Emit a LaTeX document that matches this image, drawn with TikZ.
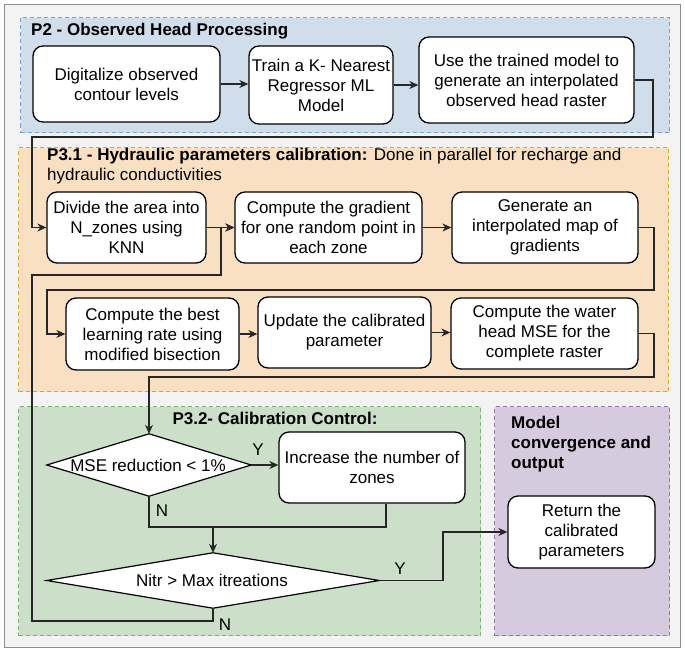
\documentclass[tikz,border=0pt]{standalone}
\usepackage{fontspec}
\setmainfont{Liberation Sans}
\usetikzlibrary{arrows.meta}
\definecolor{bluefill}{RGB}{208,221,235}
\definecolor{blueline}{RGB}{120,160,210}
\definecolor{orfill}{RGB}{249,224,194}
\definecolor{orline}{RGB}{220,165,40}
\definecolor{grfill}{RGB}{203,223,201}
\definecolor{grline}{RGB}{120,180,110}
\definecolor{pufill}{RGB}{214,202,222}
\definecolor{puline}{RGB}{150,120,175}
\definecolor{outfill}{RGB}{243,243,243}
\definecolor{outline}{RGB}{140,140,140}
\tikzset{
 proc/.style={draw=black, fill=white, rounded corners=10pt, line width=1.3pt, align=center, inner sep=1pt, font=\fontsize{17}{20}\selectfont},
 grp/.style={line width=1pt, dash pattern=on 4pt off 3pt, anchor=north west, inner sep=0pt},
 conn/.style={line width=1.2pt, draw=black!85},
 arr/.style={conn, -{Stealth[length=9pt,width=8pt]}},
 lbl/.style={font=\fontsize{17}{20}\selectfont},
 ttl/.style={font=\fontsize{17}{20}\selectfont\bfseries},
 dmd/.style={fill=white, line width=1.2pt},
}
\begin{document}
\begin{tikzpicture}[x=1pt,y=-1pt]
\useasboundingbox (0,0) rectangle (685,653);
\fill[white] (0,0) rectangle (685,653);
% outer frame
\node[draw=outline, fill=outfill, line width=1.2pt, anchor=north west, inner sep=0pt, minimum width=676, minimum height=643] (frame) at (4,4) {};
% groups
\node[grp, draw=blueline, fill=bluefill, minimum width=649, minimum height=115] (gP2) at (20,17) {};
\node[grp, draw=orline, fill=orfill, minimum width=650, minimum height=244] (gP31) at (18,147) {};
\node[grp, draw=grline, fill=grfill, minimum width=462, minimum height=229] (gP32) at (18,406) {};
\node[grp, draw=puline, fill=pufill, minimum width=175, minimum height=229] (gOut) at (494,406) {};
% titles
\node[ttl, anchor=base west, inner sep=0pt] (t1) at (31,35) {P2 - Observed Head Processing};
\node[lbl, anchor=north west, align=left, inner sep=0pt] (t2) at (47,148) {\textbf{P3.1 - Hydraulic parameters calibration:} Done in parallel for recharge and\\hydraulic conductivities};
\node[ttl, inner sep=0pt] (t3) at (275,418) {P3.2- Calibration Control:};
\node[ttl, anchor=north west, align=left, inner sep=0pt] (t4) at (511,416) {Model\\convergence and\\output};
% row 1
\node[proc, minimum width=187, minimum height=76] (b1) at (126.5,84) {Digitalize observed\\contour levels};
\node[proc, minimum width=144, minimum height=78] (b2) at (321,85) {Train a K- Nearest\\Regressor ML\\Model};
\node[proc, minimum width=215, minimum height=86] (b3) at (526.5,80) {Use the trained model to\\generate an interpolated\\observed head raster};
% row 2
\node[proc, minimum width=159, minimum height=71] (c1) at (126.5,227.5) {Divide the area into\\N\_zones using\\KNN};
\node[proc, minimum width=187, minimum height=71] (c2) at (328.5,227.5) {Compute the gradient\\for one random point in\\each zone};
\node[proc, minimum width=186, minimum height=71] (c3) at (545,227.5) {Generate an\\interpolated map of\\gradients};
% row 3
\node[proc, minimum width=173, minimum height=72] (e1) at (152.5,334) {Compute the best\\learning rate using\\modified bisection};
\node[proc, minimum width=173, minimum height=71] (e2) at (344.5,332.5) {Update the calibrated\\parameter};
\node[proc, minimum width=187, minimum height=71] (e3) at (544.5,333.5) {Compute the water\\head MSE for the\\complete raster};
% control
\node[minimum width=204, minimum height=62, inner sep=0pt] (d1) at (149,465) {};
\draw[dmd] (d1.north) -- (d1.east) -- (d1.south) -- (d1.west) -- cycle;
\node[lbl, inner sep=0pt] (d1t) at (148,465) {MSE reduction < 1\%};
\node[proc, minimum width=186, minimum height=71] (inc) at (372,467.5) {Increase the number of\\zones};
\node[minimum width=332, minimum height=55, inner sep=0pt] (d2) at (213,580.5) {};
\draw[dmd] (d2.north) -- (d2.east) -- (d2.south) -- (d2.west) -- cycle;
\node[lbl, inner sep=0pt] (d2t) at (212,580.5) {Nitr > Max itreations};
\node[proc, minimum width=147, minimum height=72] (ret) at (581.5,532) {Return the\\calibrated\\parameters};
% connectors
\coordinate (k1) at (653,137);
\coordinate (k2) at (32,137);
\coordinate (k3) at (654,290);
\coordinate (k4) at (47,290);
\coordinate (k5) at (654,377);
\coordinate (k6) at (149,527);
\coordinate (k7) at (386,527);
\coordinate (k8) at (213,527);
\coordinate (k9) at (443,532);
\coordinate (k10) at (213,621);
\coordinate (k11) at (32,621);
\coordinate (k12) at (32,275);
\coordinate (k13) at (221,275);
\coordinate (k14) at (221,227.5);
\draw[arr] (b1.east) -- (b1.east -| b2.west);
\draw[arr] (b2.east) -- (b2.east -| b3.west);
\draw[arr] (b3.east) -| (k1) -- (k2) |- (c1.west);
\draw[arr] (c1.east) -- (c2.west);
\draw[arr] (c2.east) -- (c3.west);
\draw[arr] (c3.east) -| (k3) -- (k4) |- (e1.west);
\draw[arr] (e1.east) -- (e1.east -| e2.west);
\draw[arr] (e2.east) -- (e2.east -| e3.west);
\draw[arr] (e3.east) -| (k5) -| (d1.north);
\draw[arr] (d1.east) -- (d1.east -| inc.west);
\draw[conn] (d1.south) -- (k6) -- (k7) -- (k7 |- inc.south);
\draw[arr] (k8) -- (d2.north);
\draw[arr] (d2.east) -| (k9) -- (k9 -| ret.west);
\draw[arr] (d2.south) -- (k10) -- (k11) -- (k12) -- (k13) -- (k14) -- (c2.west);
% labels
\node[lbl, inner sep=0pt] (y1) at (258,450) {Y};
\node[lbl, inner sep=0pt] (n1) at (162,511) {N};
\node[lbl, inner sep=0pt] (y2) at (400,569) {Y};
\node[lbl, inner sep=0pt] (n2) at (225,625) {N};
\end{tikzpicture}
\end{document}
